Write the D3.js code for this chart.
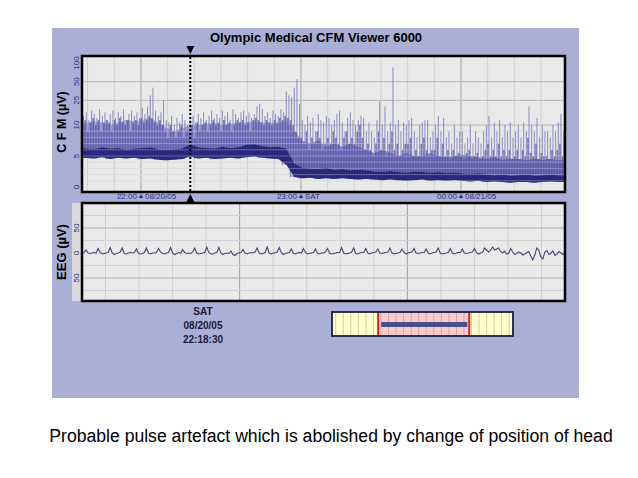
<!DOCTYPE html>
<html><head><meta charset="utf-8">
<script src="https://cdn.jsdelivr.net/npm/d3@7"></script>
<style>body{margin:0;background:#fff}svg{display:block;font-family:"Liberation Sans",Arial,sans-serif}</style>
</head><body>
<svg id="c" width="638" height="478"></svg>
<script>
// ---------------- DATA ----------------
const titleText = "Olympic Medical CFM Viewer 6000";
const captionText = "Probable pulse artefact which is abolished by change of position of head";
const cfmTickValues = [0, 5, 10, 25, 50, 100];
const cfmTickLabels = ["0", "5", "10", "25", "50", "100"];
const cfmGridValues = [1, 2, 3, 4, 5, 6, 7, 8, 9, 10, 25, 50];
const timeDomain = [37.9, 219.0];            // minutes after 21:00
const hourTicks = [60, 120, 180];
const hourLabels = ["22:00", "23:00", "00:00"];
const hourSubLabels = ["08/20/05", "SAT", "08/21/05"];
const minorTimeStep = 10;                    // minutes
const cursorMinute = 78.5;                   // 22:18:30
const cursorLabels = ["SAT", "08/20/05", "22:18:30"];

// CFM envelope, 3-minute bins starting at minute 38 (µV)
const binStart = 38, binMinutes = 3;
const cfmLow = [4.7,4.6,4.8,4.5,4.7,4.6,4.7, 4.5,4.6,4.4, 4.3,4.4,4.5, 4.9, 4.6,4.7,4.5,4.6,4.7,4.6,
  4.8,4.9,4.7, 4.6,4.5, 3.6, 1.6, 1.4,1.5,1.3,1.4,1.3,1.4,1.3,1.2,1.3,
  1.2,1.1,1.2,1.1,1.0,1.1,1.2,1.0,1.1,1.0,1.1,1.0,0.9,1.0,
  0.8,0.9,0.8,0.7,0.8,0.8,0.7,0.8,0.9,0.8,0.8];
const cfmBand = [6.3,6.1,6.4,6.2,6.3,6.0,6.2, 6.3,6.4,6.1, 6.0,6.1,6.2, 6.9, 6.4,6.3,6.2,6.5,6.3,6.4,
  6.8,6.9,6.6, 6.4,6.5, 6.2, 3.8, 3.1,3.0,2.9,3.1,2.8,2.9,2.7,2.8,2.7,
  2.5,2.4,2.6,2.4,2.3,2.5,2.4,2.3,2.4,2.2,2.3,2.2,2.1,2.2,
  2.0,1.9,2.0,1.8,1.9,2.0,1.8,1.9,2.0,1.9,1.9];
const cfmDense = [10.5,11.5,11,10,11,12,11.5, 12,13,11, 9.5,9,9.5, 10, 10,10.5,11,10,10.5,11,
  11,11.5,11, 11,10.5, 12, 9, 7.5,7,7.5,6.5,7,6.5,7,6.5,6,
  5.5,6,5.5,5,5.5,5,5,5.5,5,4.8,5,5.2,5,4.8,
  4.5,4.8,4.4,4.6,4.5,4.3,4.6,4.4,4.5,4.3,4.4];
// per-minute typical upper margin and peak amplitude, minute 38 .. 218 (µV)
const minuteStart = 38;
const cfmUpper = [
  10,12,9,11,13,10,12,9,11,12,
  11,9,12,10,13,11,10,12,9,11,
  12,10,13,11,12,14,13,11,10,12,
  10,9,8,10,9,8,9,10,8,9,
  9,10,8,11,9,10,11,9,10,12,
  10,11,9,12,10,11,9,10,12,11,
  12,10,11,9,12,13,12,11,10,12,
  11,10,12,11,13,12,14,13,
  12,10,9,8,
  8,7,9,6,8,7,9,8,6,7,
  8,7,9,8,7,6,8,9,7,8,
  7,9,10,8,6,7,6,5,7,9,
  6,8,5,7,9,6,7,5,6,7,
  7,8,5,6,5,7,8,6,5,6,
  6,8,5,7,5,6,4.5,6,5,5.5,
  5,4.5,5.5,6,4.5,5,5.5,4.5,5,6,
  7,5,6,5,7,5,6,5,6,4.5,
  5,6,4.5,6,5,8,5.5,5,7,4.5,
  5.5,5,5,4.5,6,5,6,7,5];
const cfmPeak = [
  14,16,12,17,15,13,18,14,16,12,
  15,17,13,16,14,18,12,15,17,14,
  16,13,19,15,20,30,40,17,14,16,
  25,12,11,14,10,13,11,15,12,10,
  12,14,11,15,13,16,12,14,17,13,
  15,13,17,14,16,12,18,15,13,16,
  17,14,16,13,15,20,22,18,14,16,
  13,17,15,14,18,16,35,30,
  28,40,55,22,
  12,10,14,11,13,9,15,12,11,14,
  13,10,12,15,17,11,9,13,16,12,
  10,12,14,13,9,11,9,8,12,24,
  10,20,9,11,85,10,12,9,11,10,
  12,13,9,8,10,11,12,12,8,9,
  10,14,9,13,8,9,7,10,8,9,
  9,7,8,10,7,9,8,7,9,10,
  14,8,11,9,12,8,10,9,11,8,
  9,10,8,11,9,20,10,9,13,8,
  10,9,9,8,10,9,11,15,9];

// EEG trace (µV), samples every 0.06 s starting at -4.7 s
const eegStart = -4.7, eegStep = 0.06;
const eegDomain = [-4.7, 9.7];
const eegValues = [
  0,1,6,0,-1,0, 1,0,9,1,-2,-1, 0,1,11,0,-3,-1, 0,2,10,-1,-2,0, 1,0,1,8,0,-2,
  -1,1,10,0,-2,0, 0,1,9,2,-1,-2, 0,1,11,0,-3,-1, 1,0,7,1,-1,0, -1,2,10,0,-2,-1,
  0,1,12,1,-2,-2, 0,1,11,0,-3,-1, 0,-1,4,-3,-5,-1, 0,1,7,0,-2,0, 1,0,2,10,0,-2,
  -1,1,12,0,-2,0, 0,2,11,1,-3,-1, 0,1,8,0,-2,0, 1,0,9,1,-2,-1, 0,1,8,0,-2,0,
  0,2,9,0,-2,-1, 0,1,1,11,0,-2, -1,0,2,10,-1,-2, 0,1,1,9,0,-2, 0,1,2,8,0,-1,
  0,1,2,10,0,-2, -1,0,1,8,1,-2, 0,1,2,9,0,-1, 0,1,1,8,0,-2, 0,1,2,10,0,-2,
  -1,0,1,9,0,-2, 0,1,1,8,0,-1, 0,1,2,9,1,-2, 0,1,10,6,2,5, 12,6,8,10,3,0,
  4,-2,0,9,2,-3, -1,2,0,-4,-2,1, 3,-6,-14,-4,10,6, -8,-12,2,5,-3,0, 4,-5,-2,3,0,-3,1];
const eegTickValues = [50, 0, -50];
const eegTickLabels = ["50", "0", "50"];
const eegGridValues = [-75, -50, -25, 25, 50, 75];
const eegMajorSeconds = [0, 5];

// overview bar (minutes after 21:00)
const overviewDomain = [-54, 306];
const overviewWindow = [37.9, 219.0];
const overviewCellMinutes = 15;

// ---------------- DRAW ----------------
const svg = d3.select("#c");
const panel = {x: 52, y: 28, w: 527, h: 370};
const cfmBox = {x0: 82, x1: 565, y0: 56, y1: 192};
const eegBox = {x0: 82, x1: 565, y0: 203, y1: 301};
const navy = "#25307e";

svg.append("rect").attr("width", 638).attr("height", 478).attr("fill", "#fff");
svg.append("rect").attr("x", panel.x).attr("y", panel.y).attr("width", panel.w).attr("height", panel.h)
  .attr("fill", "#aaafd5");

svg.append("text").attr("x", 316).attr("y", 42).attr("text-anchor", "middle")
  .attr("font-weight", "bold").attr("font-size", 13).attr("fill", "#000").text(titleText);

// scales
const x = d3.scaleLinear().domain(timeDomain).range([cfmBox.x0, cfmBox.x1]);
const yLin = d3.scaleLinear().domain([0, 10]).range([187, 125]);
const yLog = d3.scaleLog().domain([10, 100]).range([125, 63]);
const y = v => v <= 10 ? yLin(Math.max(0, v)) : yLog(Math.min(v, 140));

const defs = svg.append("defs");
defs.append("clipPath").attr("id", "cfmClip").append("rect")
  .attr("x", cfmBox.x0).attr("y", cfmBox.y0).attr("width", cfmBox.x1 - cfmBox.x0).attr("height", cfmBox.y1 - cfmBox.y0);
defs.append("clipPath").attr("id", "eegClip").append("rect")
  .attr("x", eegBox.x0).attr("y", eegBox.y0).attr("width", eegBox.x1 - eegBox.x0).attr("height", eegBox.y1 - eegBox.y0);
const grad = defs.append("linearGradient").attr("id", "denseGrad").attr("x1", 0).attr("x2", 0).attr("y1", 0).attr("y2", 1);
grad.append("stop").attr("offset", "0%").attr("stop-color", "#a4a4d4");
grad.append("stop").attr("offset", "100%").attr("stop-color", "#4848a0");

// CFM background + grid
svg.append("rect").attr("x", cfmBox.x0).attr("y", cfmBox.y0).attr("width", cfmBox.x1 - cfmBox.x0)
  .attr("height", cfmBox.y1 - cfmBox.y0).attr("fill", "#e9e9e9");
const gC = svg.append("g").attr("clip-path", "url(#cfmClip)");
const minorTimes = d3.range(Math.ceil(timeDomain[0] / minorTimeStep) * minorTimeStep, timeDomain[1], minorTimeStep);
gC.selectAll(".vm").data(minorTimes).join("line")
  .attr("x1", d => x(d)).attr("x2", d => x(d)).attr("y1", cfmBox.y0).attr("y2", cfmBox.y1)
  .attr("stroke", d => hourTicks.includes(d) ? "#a4a4a4" : "#cfcfcf").attr("stroke-width", 1);
gC.selectAll(".hg").data(cfmGridValues).join("line")
  .attr("x1", cfmBox.x0).attr("x2", cfmBox.x1).attr("y1", d => y(d)).attr("y2", d => y(d))
  .attr("stroke", d => [10, 25, 50].includes(d) ? "#b8b8b8" : "#d2d2d2").attr("stroke-width", 1);

// CFM trace
const bins = cfmLow.map((lo, i) => ({t0: binStart + i * binMinutes, t1: binStart + (i + 1) * binMinutes,
  lo, band: cfmBand[i], dense: cfmDense[i]}));
const binX = (d, i) => x(i === 0 ? d.t0 : i === bins.length - 1 ? d.t1 : (d.t0 + d.t1) / 2);
const minutes = cfmPeak.map((p, i) => {
  const b = bins[Math.min(bins.length - 1, Math.floor(i / binMinutes))];
  return {t: minuteStart + i, p, up: cfmUpper[i], band: b.band, lo: b.lo};
});

gC.append("path").datum(bins)
  .attr("d", d3.area().x(binX).y0(d => y(d.band)).y1(d => y(d.dense)))
  .attr("fill", "url(#denseGrad)").attr("opacity", 0.85);
gC.selectAll(".pk").data(minutes).join("line")
  .attr("x1", d => x(d.t + 0.5)).attr("x2", d => x(d.t + 0.5))
  .attr("y1", d => y(d.band)).attr("y2", d => y(d.p))
  .attr("stroke", "#7a7abf").attr("stroke-width", 1).attr("opacity", 0.85);
gC.selectAll(".up").data(minutes).join("line")
  .attr("x1", d => x(d.t + 0.1)).attr("x2", d => x(d.t + 0.1))
  .attr("y1", d => y(d.lo)).attr("y2", d => y(d.up))
  .attr("stroke", "#4e4ea4").attr("stroke-width", 1.6).attr("opacity", 0.7);
gC.append("path").datum(bins)
  .attr("d", d3.area().x(binX).y0(d => y(d.lo)).y1(d => y(d.band)))
  .attr("fill", "#1e1e76").attr("opacity", 0.93);
gC.selectAll(".hg2").data(cfmGridValues.filter(v => v < 10)).join("line")
  .attr("x1", cfmBox.x0).attr("x2", cfmBox.x1).attr("y1", d => y(d)).attr("y2", d => y(d))
  .attr("stroke", "#fff").attr("stroke-opacity", 0.3).attr("stroke-width", 1);

svg.append("rect").attr("x", cfmBox.x0).attr("y", cfmBox.y0).attr("width", cfmBox.x1 - cfmBox.x0)
  .attr("height", cfmBox.y1 - cfmBox.y0).attr("fill", "none").attr("stroke", "#000").attr("stroke-width", 2.5);

// CFM y tick labels (rotated)
svg.selectAll(".cyt").data(cfmTickValues).join("text")
  .attr("transform", d => `translate(79,${y(d)}) rotate(-90)`)
  .attr("text-anchor", "middle").attr("font-size", 8).attr("fill", navy)
  .text((d, i) => cfmTickLabels[i]);
svg.append("text").attr("transform", "translate(66,122) rotate(-90)").attr("text-anchor", "middle")
  .attr("font-weight", "bold").attr("font-size", 12.5).attr("fill", "#000").text("C F M (µV)");

// time labels
hourTicks.forEach((h, i) => {
  svg.append("text").attr("x", x(h) - 4).attr("y", 199).attr("text-anchor", "end")
    .attr("font-size", 8).attr("fill", navy).text(hourLabels[i]);
  svg.append("text").attr("x", x(h)).attr("y", 198).attr("text-anchor", "middle")
    .attr("font-size", 7).attr("fill", navy).text("▲");
  svg.append("text").attr("x", x(h) + 4).attr("y", 199).attr("text-anchor", "start")
    .attr("font-size", 8).attr("fill", navy).text(hourSubLabels[i]);
});

// EEG panel
const xe = d3.scaleLinear().domain(eegDomain).range([eegBox.x0, eegBox.x1]);
const ye = d3.scaleLinear().domain([-98, 100]).range([302, 203]);
svg.append("rect").attr("x", 72).attr("y", eegBox.y0).attr("width", 10).attr("height", eegBox.y1 - eegBox.y0)
  .attr("fill", "#d9d9df");
svg.append("rect").attr("x", eegBox.x0).attr("y", eegBox.y0).attr("width", eegBox.x1 - eegBox.x0)
  .attr("height", eegBox.y1 - eegBox.y0).attr("fill", "#e9e9e9");
const gE = svg.append("g").attr("clip-path", "url(#eegClip)");
const secs = d3.range(Math.ceil(eegDomain[0]), eegDomain[1], 1);
gE.selectAll(".ev").data(secs).join("line")
  .attr("x1", d => xe(d)).attr("x2", d => xe(d)).attr("y1", eegBox.y0).attr("y2", eegBox.y1)
  .attr("stroke", d => eegMajorSeconds.includes(d) ? "#a0a0a0" : "#d0d0d0");
gE.selectAll(".eh").data(eegGridValues).join("line")
  .attr("x1", eegBox.x0).attr("x2", eegBox.x1).attr("y1", d => ye(d)).attr("y2", d => ye(d))
  .attr("stroke", d => Math.abs(d) === 50 ? "#b0b0b0" : "#d2d2d2");
gE.append("path").datum(eegValues)
  .attr("d", d3.line().x((d, i) => xe(eegStart + i * eegStep)).y(d => ye(d)))
  .attr("fill", "none").attr("stroke", "#45457f").attr("stroke-width", 1.1);
svg.append("rect").attr("x", eegBox.x0).attr("y", eegBox.y0).attr("width", eegBox.x1 - eegBox.x0)
  .attr("height", eegBox.y1 - eegBox.y0).attr("fill", "none").attr("stroke", "#000").attr("stroke-width", 2.5);
svg.selectAll(".eyt").data(eegTickValues).join("text")
  .attr("transform", d => `translate(79,${ye(d)}) rotate(-90)`)
  .attr("text-anchor", "middle").attr("font-size", 8).attr("fill", navy)
  .text((d, i) => eegTickLabels[i]);
svg.append("text").attr("transform", "translate(66,252) rotate(-90)").attr("text-anchor", "middle")
  .attr("font-weight", "bold").attr("font-size", 13).attr("fill", "#000").text("EEG (µV)");

// cursor
const cx = x(cursorMinute);
svg.append("line").attr("x1", cx).attr("x2", cx).attr("y1", cfmBox.y0 + 1).attr("y2", cfmBox.y1 - 1)
  .attr("stroke", "#000").attr("stroke-width", 2).attr("stroke-dasharray", "2,2");
svg.append("path").attr("d", `M${cx - 4},${46} L${cx + 4},${46} L${cx},${54} Z`).attr("fill", "#000");
svg.append("path").attr("d", `M${cx - 4},${202} L${cx + 4},${202} L${cx},${194} Z`).attr("fill", "#000");
cursorLabels.forEach((t, i) => {
  svg.append("text").attr("x", 203).attr("y", 315 + i * 14).attr("text-anchor", "middle")
    .attr("font-size", 10).attr("font-weight", "bold").attr("fill", "#1a1a3a").text(t);
});

// overview bar
const xo = d3.scaleLinear().domain(overviewDomain).range([332, 513]);
const ob = {y0: 312, y1: 336};
svg.append("rect").attr("x", xo(overviewDomain[0])).attr("y", ob.y0).attr("width", xo(overviewDomain[1]) - xo(overviewDomain[0]))
  .attr("height", ob.y1 - ob.y0).attr("fill", "#ffffcc");
svg.append("rect").attr("x", xo(overviewWindow[0])).attr("y", ob.y0).attr("width", xo(overviewWindow[1]) - xo(overviewWindow[0]))
  .attr("height", ob.y1 - ob.y0).attr("fill", "#f8cccc");
svg.selectAll(".oc").data(d3.range(overviewDomain[0] + overviewCellMinutes / 2, overviewDomain[1], overviewCellMinutes)).join("line")
  .attr("x1", d => xo(d)).attr("x2", d => xo(d)).attr("y1", ob.y0).attr("y2", ob.y1)
  .attr("stroke", d => (d > overviewWindow[0] && d < overviewWindow[1]) ? "#d8a4a4" : "#cfcfa0").attr("stroke-width", 1);
svg.append("rect").attr("x", xo(overviewWindow[0]) + 3).attr("y", 322).attr("width", xo(overviewWindow[1]) - xo(overviewWindow[0]) - 5)
  .attr("height", 5).attr("fill", "#4a4f8c");
overviewWindow.forEach(w => svg.append("line").attr("x1", xo(w)).attr("x2", xo(w)).attr("y1", ob.y0).attr("y2", ob.y1)
  .attr("stroke", "#d42020").attr("stroke-width", 2));
svg.append("rect").attr("x", 332).attr("y", ob.y0).attr("width", 181).attr("height", ob.y1 - ob.y0)
  .attr("fill", "none").attr("stroke", "#1c1c40").attr("stroke-width", 1.8);

// caption
svg.append("text").attr("x", 331).attr("y", 442).attr("text-anchor", "middle")
  .attr("font-size", 17.6).attr("fill", "#000").text(captionText);
</script>
</body></html>
